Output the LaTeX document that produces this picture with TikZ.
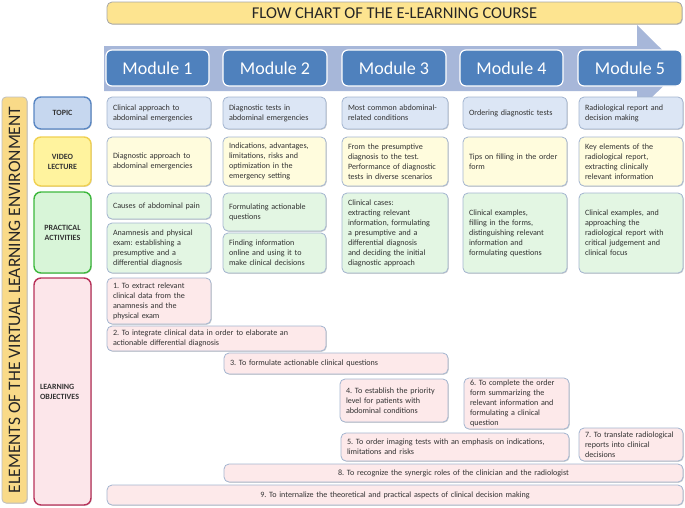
\documentclass[tikz,border=0pt]{standalone}
\usepackage{fontspec}
\setmainfont{Carlito}
\usetikzlibrary{shapes.geometric,shadows}
\frenchspacing
\definecolor{txt}{HTML}{333333}
\definecolor{titlefill}{HTML}{FDE490}
\definecolor{arrowc}{HTML}{A7B7D9}
\definecolor{modfill}{HTML}{4F81BD}
\definecolor{bandfill}{HTML}{F9DA88}
\definecolor{boxline}{HTML}{A3B5D0}
\definecolor{topicfill}{HTML}{DCE6F5}
\definecolor{videofill}{HTML}{FFFCDD}
\definecolor{pracfill}{HTML}{E3F6E3}
\definecolor{objfill}{HTML}{FDE9EA}
\definecolor{ltopicfill}{HTML}{C6D7EF}
\definecolor{ltopicline}{HTML}{5A87C3}
\definecolor{lvideofill}{HTML}{FFF39E}
\definecolor{lvideoline}{HTML}{F0D050}
\definecolor{lpracfill}{HTML}{D8F5D8}
\definecolor{lpracline}{HTML}{3DB83D}
\definecolor{lobjfill}{HTML}{FCE6EA}
\definecolor{lobjline}{HTML}{B8325A}
\tikzset{
  shad/.style={drop shadow={shadow xshift=0.8pt, shadow yshift=-0.8pt, opacity=0.18, fill=black}},
  cell/.style={draw=boxline, line width=0.8pt, rounded corners=5pt, inner xsep=6pt, inner ysep=0pt,
     align=left, text=txt, font=\fontsize{8.1}{10}\selectfont, shad,
     execute at begin node={\frenchspacing\hyphenpenalty=10000\exhyphenpenalty=10000}},
  ctopic/.style={cell, fill=topicfill},
  cvideo/.style={cell, fill=videofill},
  cprac/.style={cell, fill=pracfill},
  cobj/.style={cell, fill=objfill},
  cobjc/.style={cobj, align=center},
  rowlab/.style={rounded corners=7pt, line width=1.4pt, align=center, text=txt,
     font=\bfseries\fontsize{8}{10}\selectfont, inner sep=0pt, shad},
  modbox/.style={fill=modfill, draw=white, line width=1.2pt, rounded corners=6pt,
     text=white, font=\fontsize{18}{20}\selectfont, inner sep=0pt}
}
\newcommand\bx[7]{%
  \pgfmathsetmacro\bxw{#4-#2}\pgfmathsetmacro\bxh{#5-#3}\pgfmathsetmacro\bxt{#4-#2-12}%
  \node[#6, minimum width=\bxw pt, minimum height=\bxh pt, text width=\bxt pt] (#1)
     at ({(#2+#4)/2},{(#3+#5)/2}) {#7};}
\newcommand\lb[7]{%
  \pgfmathsetmacro\bxw{#4-#2}\pgfmathsetmacro\bxh{#5-#3}%
  \node[#6, minimum width=\bxw pt, minimum height=\bxh pt] (#1)
     at ({(#2+#4)/2},{(#3+#5)/2}) {#7};}
\begin{document}
\begin{tikzpicture}[x=1pt,y=-1pt]
\useasboundingbox (0,0) rectangle (685,507);
% big arrow
\fill[arrowc] (104,46) -- (637,46) -- (637,25) -- (681,68.5) -- (637,112) -- (637,91) -- (104,91) -- cycle;
% title
\lb{title}{107}{2}{682}{24}{draw=black!35, fill=titlefill, rounded corners=5pt, line width=0.8pt, text=black!85, font=\fontsize{16.5}{18}\selectfont, shad}{FLOW CHART OF THE E-LEARNING COURSE}
% modules
\lb{m1}{106}{50}{209}{86}{modbox}{Module 1}
\lb{m2}{223}{50}{327}{86}{modbox}{Module 2}
\lb{m3}{342}{50}{446}{86}{modbox}{Module 3}
\lb{m4}{460}{50}{563}{86}{modbox}{Module 4}
\lb{m5}{578}{50}{682}{86}{modbox}{Module 5}
% vertical band
\lb{band}{2}{97}{27}{503}{draw=black!25, fill=bandfill, rounded corners=4pt, line width=0.8pt, shad}{}
\node[rotate=90, text=black!85, font=\fontsize{17.5}{18}\selectfont] (bandtext) at (band.center) {ELEMENTS OF THE VIRTUAL LEARNING ENVIRONMENT};
% row labels
\lb{ltopic}{34}{97}{91}{129}{rowlab, draw=ltopicline, fill=ltopicfill}{TOPIC}
\lb{lvideo}{34}{137}{91}{186}{rowlab, draw=lvideoline, fill=lvideofill}{VIDEO\\LECTURE}
\lb{lprac}{34}{192}{91}{273}{rowlab, draw=lpracline, fill=lpracfill}{PRACTICAL\\ACTIVITIES}
\lb{lobj}{34}{278}{91}{505}{rowlab, draw=lobjline, fill=lobjfill, align=left, text width=45pt}{LEARNING\\OBJECTIVES}
% topic row
\bx{t1}{107}{97}{211}{129}{ctopic}{Clinical approach to\\abdominal emergencies}
\bx{t2}{223}{97}{326}{129}{ctopic}{Diagnostic tests in\\abdominal emergencies}
\bx{t3}{342}{97}{448}{129}{ctopic}{Most common abdominal-\\related conditions}
\bx{t4}{463}{97}{567}{129}{ctopic}{Ordering diagnostic tests}
\bx{t5}{579}{97}{683}{129}{ctopic}{Radiological report and\\decision making}
% video row
\bx{v1}{107}{137}{211}{186}{cvideo}{Diagnostic approach to\\abdominal emergencies}
\bx{v2}{223}{137}{326}{186}{cvideo}{Indications, advantages,\\limitations, risks and\\optimization in the\\emergency setting}
\bx{v3}{342}{137}{448}{186}{cvideo}{From the presumptive\\diagnosis to the test.\\Performance of diagnostic\\tests in diverse scenarios}
\bx{v4}{463}{137}{567}{186}{cvideo}{Tips on filling in the order\\form}
\bx{v5}{579}{137}{683}{186}{cvideo}{Key elements of the\\radiological report,\\extracting clinically\\relevant information}
% practical row
\bx{p1a}{107}{193}{211}{219}{cprac}{Causes of abdominal pain}
\bx{p1b}{107}{223}{211}{273}{cprac}{Anamnesis and physical\\exam: establishing a\\presumptive and a\\differential diagnosis}
\bx{p2a}{223}{193}{326}{231}{cprac}{Formulating actionable\\questions}
\bx{p2b}{223}{233}{326}{273}{cprac}{Finding information\\online and using it to\\make clinical decisions}
\bx{p3}{342}{193}{448}{273}{cprac}{Clinical cases:\\extracting relevant\\information, formulating\\a presumptive and a\\differential diagnosis\\and deciding the initial\\diagnostic approach}
\bx{p4}{463}{193}{567}{273}{cprac}{Clinical examples,\\filling in the forms,\\distinguishing relevant\\information and\\formulating questions}
\bx{p5}{579}{193}{683}{273}{cprac}{Clinical examples, and\\approaching the\\radiological report with\\critical judgement and\\clinical focus}
% objectives
\bx{o1}{107}{278}{211}{324}{cobj}{1. To extract relevant\\clinical data from the\\anamnesis and the\\physical exam}
\bx{o2}{107}{326}{326}{351}{cobj}{2. To integrate clinical data in order to elaborate an\\actionable differential diagnosis}
\bx{o3}{224}{353}{448}{374}{cobj}{3. To formulate actionable clinical questions}
\bx{o4}{340}{379}{448}{422}{cobj}{4. To establish the priority\\level for patients with\\abdominal conditions}
\bx{o6}{464}{378}{569}{429}{cobj}{6. To complete the order\\form summarizing the\\relevant information and\\formulating a clinical\\question}
\bx{o5}{341}{433}{569}{461}{cobj}{5. To order imaging tests with an emphasis on indications,\\limitations and risks}
\bx{o7}{579}{428}{683}{461}{cobj}{7. To translate radiological\\reports into clinical\\decisions}
\bx{o8}{224}{464}{683}{482}{cobjc}{8. To recognize the synergic roles of the clinician and the radiologist}
\bx{o9}{107}{485}{683}{505}{cobjc}{9. To internalize the theoretical and practical aspects of clinical decision making}
\end{tikzpicture}
\end{document}
